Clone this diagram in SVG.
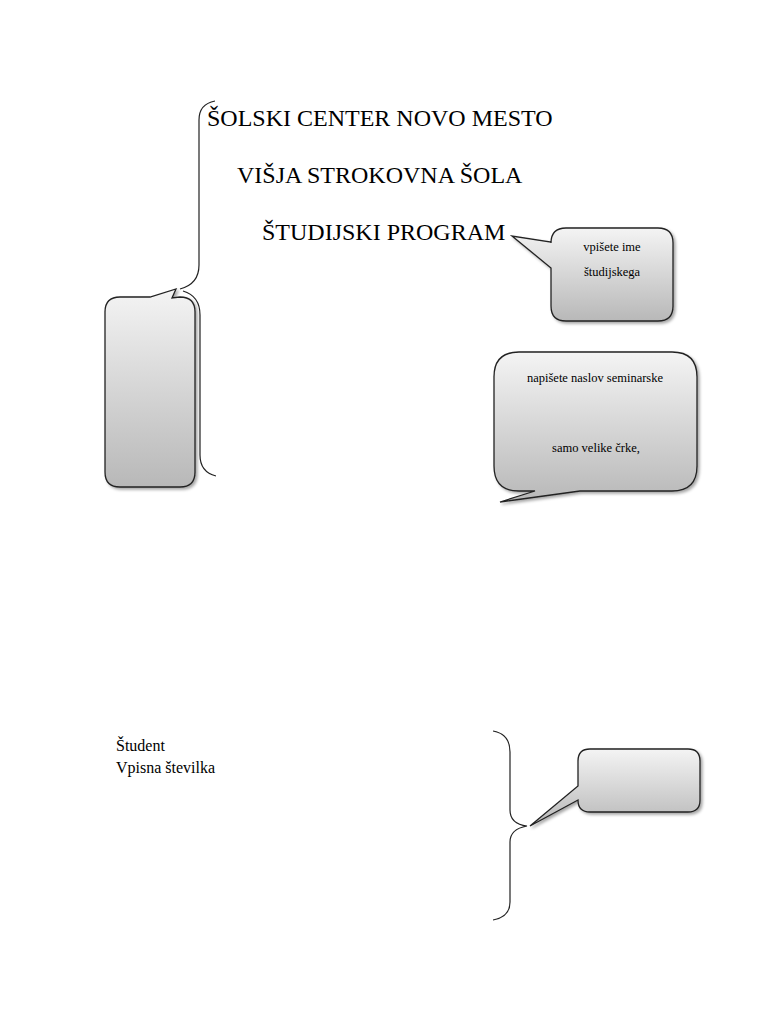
<svg xmlns="http://www.w3.org/2000/svg" width="768" height="1024" viewBox="0 0 768 1024">
<style>
.t{font-family:"Liberation Serif",serif;fill:#000}
.call{fill:url(#g);stroke:#222;stroke-width:1.3;filter:url(#sh)}
.br{fill:none;stroke:#222;stroke-width:1.2}
</style>
<defs>
<linearGradient id="g" x1="0" y1="0" x2="0" y2="1">
<stop offset="0" stop-color="#f4f4f4"/><stop offset="1" stop-color="#b8b8b8"/>
</linearGradient>
<filter id="sh" x="-10%" y="-10%" width="130%" height="130%">
<feDropShadow dx="2" dy="2" stdDeviation="1.5" flood-color="#000" flood-opacity="0.35"/>
</filter>
</defs>
<rect width="768" height="1024" fill="#fff"/>
<g id="titles">
<text class="t" x="207" y="126" font-size="24">ŠOLSKI CENTER NOVO MESTO</text>
<text class="t" x="237" y="183" font-size="24">VIŠJA STROKOVNA ŠOLA</text>
<text class="t" x="262" y="240" font-size="24">ŠTUDIJSKI PROGRAM</text>
</g>
<g id="connectors">
<path class="br" d="M215,101 Q199,104 199,120 L199,265 Q199,284 180,289"/>
<path class="br" d="M183,291 Q200,296 200,315 L200,455 Q200,472 216,476"/>
<path class="br" d="M493,731 Q510,734 510,752 L510,810 Q510,824 527,826 Q510,829 510,842 L510,902 Q510,917 493,920"/>
</g>
<g id="callout-left">
<path class="call" d="M120,297 L150,297 L176,289 L172,298 L180,297 Q195,297 195,312 L195,472 Q195,487 180,487 L120,487 Q105,487 105,472 L105,312 Q105,297 120,297 Z"/>
</g>
<g id="callout-program">
<path class="call" d="M566,228 L658,228 Q673,228 673,243 L673,306 Q673,321 658,321 L566,321 Q551,321 551,306 L551,268 L512,236 L551,242 L551,243 Q551,228 566,228 Z"/>
<text class="t" x="612" y="251" font-size="12.5" text-anchor="middle">vpišete ime</text>
<text class="t" x="612" y="276" font-size="12.5" text-anchor="middle">študijskega</text>
</g>
<g id="callout-title">
<path class="call" d="M519,352 L672,352 Q697,352 697,377 L697,466 Q697,491 672,491 L580,491 L500,502 L535,491 L519,491 Q494,491 494,466 L494,377 Q494,352 519,352 Z"/>
<text class="t" x="595" y="382" font-size="12.5" text-anchor="middle">napišete naslov seminarske</text>
<text class="t" x="596" y="452" font-size="12.5" text-anchor="middle">samo velike črke,</text>
</g>
<g id="student">
<text class="t" x="116" y="751" font-size="16">Študent</text>
<text class="t" x="116" y="773" font-size="16">Vpisna številka</text>
</g>
<g id="callout-student">
<path class="call" d="M590,749 L688,749 Q700,749 700,761 L700,800 Q700,812 688,812 L590,812 Q578,812 578,800 L530,826 L578,786 L578,761 Q578,749 590,749 Z"/>
</g>
</svg>
